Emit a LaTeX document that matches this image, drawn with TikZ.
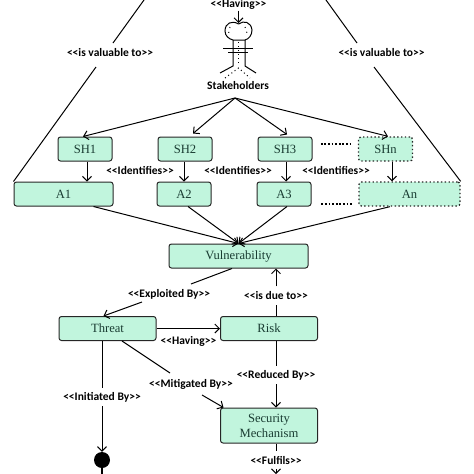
\documentclass[tikz,border=0pt]{standalone}
\usepackage{fontspec}
\usepackage{xcolor}
\setmainfont{Liberation Serif}
\newfontfamily\lblfont{Carlito}
\usetikzlibrary{positioning,arrows.meta}
\definecolor{boxgreen}{RGB}{193,245,221}
\definecolor{boxtext}{RGB}{25,60,50}
\begin{document}
\begin{tikzpicture}[
  x=1pt,y=-1pt,
  block/.style={draw=black!85,line width=1pt,rounded corners=2.5pt,fill=boxgreen,text=boxtext,inner sep=0pt,align=center,font=\fontsize{12.6}{15}\selectfont},
  dotblock/.style={block,line width=1.3pt,dash pattern=on 1.4pt off 2.4pt},
  lbl/.style={inner sep=1pt,minimum height=18pt,font=\lblfont\bfseries\fontsize{11.5}{13}\selectfont},
  arr/.style={-{Straight Barb[length=4.5pt,width=9pt]},line width=1pt},
  ln/.style={line width=1pt},
  dots/.style={line width=1.8pt,dash pattern=on 1.8pt off 1.8pt}]
  \useasboundingbox (0,0) rectangle (474,474);
  \clip (0,0) rectangle (474,474);
  % stakeholder and assets
  \node[block,minimum width=54pt,minimum height=24pt] (sh1) at (85,149) {SH1};
  \node[block,minimum width=54pt,minimum height=24pt] (sh2) at (185,149) {SH2};
  \node[block,minimum width=54pt,minimum height=24pt] (sh3) at (285,149) {SH3};
  \node[dotblock,minimum width=54pt,minimum height=24pt] (shn) at (385.5,149) {SHn};
  \node[block,minimum width=99pt,minimum height=24pt] (a1) at (63.5,194) {A1};
  \node[block,minimum width=54pt,minimum height=24pt] (a2) at (184,194) {A2};
  \node[block,minimum width=54pt,minimum height=24pt] (a3) at (284,194) {A3};
  \node[dotblock,minimum width=101pt,minimum height=24pt] (an) at (409.5,194) {An};
  \node[block,minimum width=139pt,minimum height=24pt] (vul) at (238.5,256) {Vulnerability};
  \node[block,minimum width=97pt,minimum height=24pt] (threat) at (107.5,328.5) {Threat};
  \node[block,minimum width=97pt,minimum height=24pt] (risk) at (269,328.5) {Risk};
  \node[block,minimum width=97pt,minimum height=35pt] (sec) at (269,425.5) {Security\\Mechanism};
  \node[circle,fill=black,minimum size=16pt,inner sep=0pt] (dot) at (102,460) {};
  % labels
  \node[lbl,minimum height=0pt] (hav0) at (238.5,4.5) {<<Having>>};
  \node[lbl] (val1) at (110,53) {<<is valuable to>>};
  \node[lbl] (val2) at (381.5,53) {<<is valuable to>>};
  \node[lbl,minimum height=0pt] (stk) at (238,86) {Stakeholders};
  \node[lbl] (idf1) at (140,170) {<<Identifies>>};
  \node[lbl] (idf2) at (238,170) {<<Identifies>>};
  \node[lbl] (idf3) at (336,170) {<<Identifies>>};
  \node[lbl] (expl) at (169,294) {<<Exploited By>>};
  \node[lbl] (due) at (276,295.5) {<<is due to>>};
  \node[lbl] (hav1) at (188.5,341.5) {<<Having>>};
  \node[lbl] (red) at (276,375) {<<Reduced By>>};
  \node[lbl] (mit) at (191,384) {<<Mitigated By>>};
  \node[lbl] (init) at (102,397) {<<Initiated By>>};
  \node[lbl] (ful) at (276,460) {<<Fulfils>>};
  \coordinate (tl) at (144,0);
  \coordinate (tr) at (326,0);
  \coordinate (vl1) at (113,43);
  \coordinate (vl2) at (96,67);
  \coordinate (vr1) at (357,43);
  \coordinate (vr2) at (374,67);
  \coordinate (ex1) at (191,284);
  \coordinate (ex2) at (142,302);
  \coordinate (mt1) at (170,373);
  \coordinate (mt2) at (202,395);
  \coordinate (fork) at (235,98);
  \coordinate (headtop) at (238.5,23);
  \coordinate (bot) at (102,474);
  \coordinate (fulend) at (276,474);
  % outer triangle
  \draw[ln] (a1.north west) -- (vl2);
  \draw[ln] (vl1) -- (tl);
  \draw[ln] (an.north east) -- (vr2);
  \draw[ln] (vr1) -- (tr);
  % stakeholder fork
  \draw[arr] (fork) -- ([xshift=-2pt]sh1.north);
  \draw[arr] (fork) -- ([xshift=8pt,yshift=3pt]sh2.north);
  \draw[arr] (fork) -- ([xshift=2pt,yshift=2pt]sh3.north);
  \draw[arr] (fork) -- ([xshift=2.5pt]shn.north);
  \draw[arr] ([xshift=2pt]sh1.south) -- ([xshift=2pt]sh1.south |- a1.north);
  \draw[arr] (a2.north |- sh2.south) -- (a2.north);
  \draw[arr] ([xshift=2pt]a3.north |- sh3.south) -- ([xshift=2pt]a3.north);
  \draw[arr] ([xshift=6.5pt]shn.south) -- ([xshift=6.5pt]shn.south |- an.north);
  \draw[dots] ([xshift=-37pt,yshift=5pt]shn.west) -- ([xshift=-5pt,yshift=5pt]shn.west);
  \draw[dots] ([xshift=-37pt,yshift=-10pt]an.west) -- ([xshift=-5pt,yshift=-10pt]an.west);
  % into vulnerability
  \draw[arr] ([xshift=30pt]a1.south) -- (vul.north);
  \draw[arr] ([xshift=4pt]a2.south) -- (vul.north);
  \draw[arr] ([xshift=3pt]a3.south) -- (vul.north);
  \draw[arr] ([xshift=-19.5pt]an.south) -- (vul.north);
  % lower part
  \draw[ln] ([xshift=-6.5pt]vul.south) -- (ex1);
  \draw[arr] (ex2) -- ([xshift=-4pt]threat.north);
  \draw[ln] (due |- risk.north) -- (due);
  \draw[arr] (due) -- (due |- vul.south);
  \draw[arr] (threat.east) -- (risk.west);
  \draw[ln] (red |- risk.south) -- (red);
  \draw[arr] (red) -- (red |- sec.north);
  \draw[ln] ([xshift=14.5pt]threat.south) -- (mt1);
  \draw[arr] (mt2) -- ([xshift=3.5pt]sec.north west);
  \draw[ln] (init |- threat.south) -- (init);
  \draw[arr] (init) -- (dot);
  \draw[line width=1.5pt] (dot) -- (bot);
  \draw[ln] (ful |- sec.south) -- (ful);
  \draw[arr] (ful) -- (fulend);
  % actor
  \draw[arr] (hav0) -- (headtop);
  \draw[ln] (238.5,24) .. controls (232,20) and (225,23) .. (225,31) .. controls (225,36) and (229,39) .. (233,40) -- (245,40) .. controls (249,39) and (252,35) .. (252,30) .. controls (251,22) and (244,20) .. (238.5,24);
  \draw[ln] (233,40) -- (233,66) -- (220,73);
  \draw[ln] (245,40) -- (245,66) -- (256,73);
  \draw[ln] (223,48) -- (253,48);
  \draw[ln] (228,52) -- (248,52);
  \draw[dots,line width=1pt,dash pattern=on 1pt off 3pt] (238.5,42) -- (238.5,64);
  \draw[dots,line width=1pt,dash pattern=on 1pt off 4pt] (230,27) -- (228,36);
  \draw[dots,line width=1pt,dash pattern=on 1pt off 4pt] (245,27) -- (248,36);
  \draw[dots,line width=1pt,dash pattern=on 1pt off 3pt] (225,78) -- (238.5,68) -- (250,78);
\end{tikzpicture}
\end{document}
